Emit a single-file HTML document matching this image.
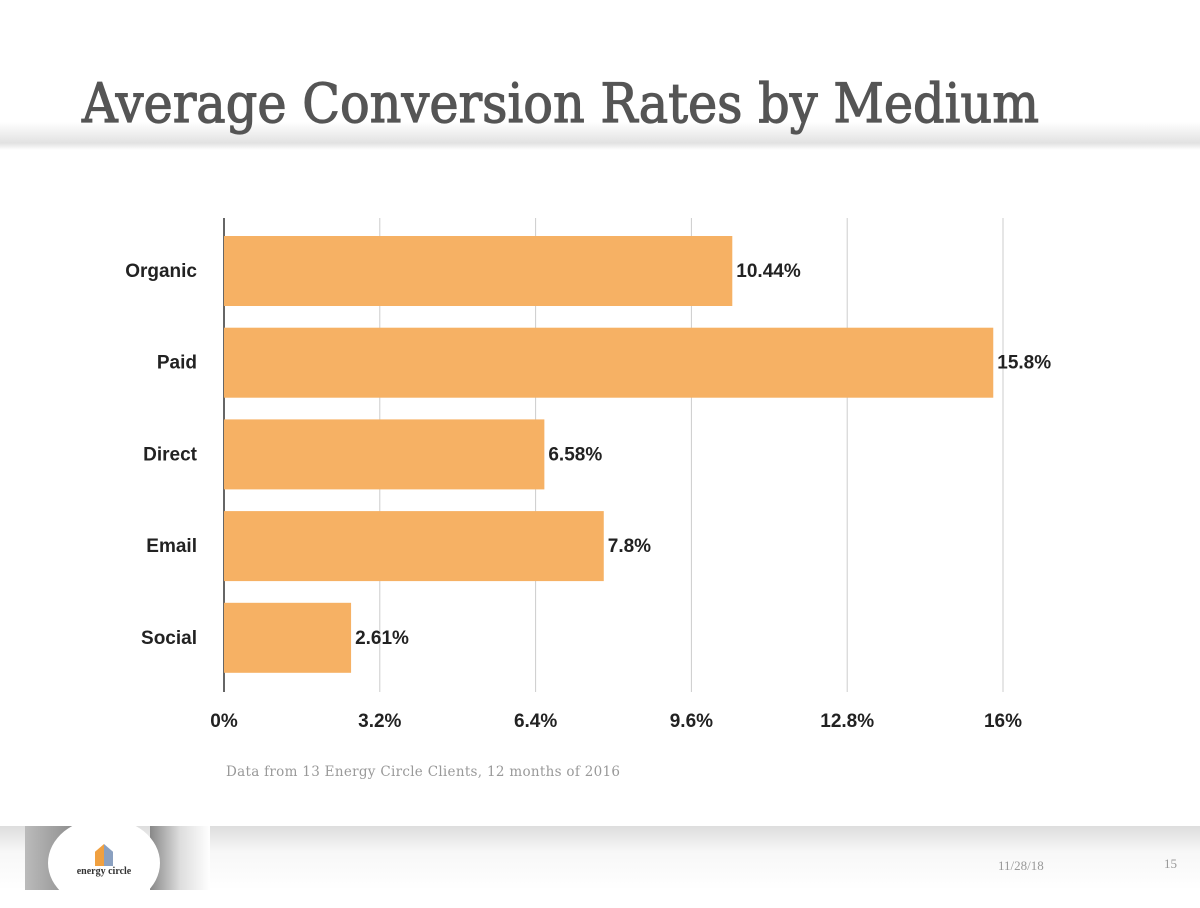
<!DOCTYPE html>
<html><head><meta charset="utf-8"><style>
body{margin:0;width:1200px;height:890px;background:#fff;position:relative;overflow:hidden;font-family:"Liberation Sans",sans-serif}
.band{position:absolute;left:0;width:1200px}
</style></head><body>
<div class="band" style="top:122px;height:28px;background:linear-gradient(#fff,#e2e2e2 75%,#fff)"></div>
<svg width="1200" height="140" style="position:absolute;left:0;top:0">
<text x="82" y="122" font-family="DejaVu Serif, serif" font-size="54" fill="#555" stroke="#555" stroke-width="1.2" textLength="957" lengthAdjust="spacingAndGlyphs">Average Conversion Rates by Medium</text></svg>
<svg id="chart" width="1200" height="780" style="position:absolute;left:0;top:0"></svg>
<div style="position:absolute;left:226px;top:764px;font-family:'DejaVu Serif',serif;font-size:13.5px;color:#999;letter-spacing:0.3px">Data from 13 Energy Circle Clients, 12 months of 2016</div>
<div class="band" style="top:826px;height:64px;background:linear-gradient(#ddd,#f7f7f7 40%,#fff)"></div>
<div style="position:absolute;left:25px;top:826px;width:55px;height:64px;background:linear-gradient(90deg,#bbb,#888)"></div>
<div style="position:absolute;left:150px;top:826px;width:60px;height:64px;background:linear-gradient(90deg,#888,#ddd,#fff)"></div>
<div style="position:absolute;left:48px;top:818px;width:112px;height:90px;border-radius:50%;background:#fff;text-align:center">
<div style="margin:26px auto 0;width:18px;height:22px;background:linear-gradient(90deg,#f0a040 50%,#8aa0c0 50%);clip-path:polygon(50% 0,100% 35%,100% 100%,0 100%,0 35%)"></div>
<div style="font-family:'Liberation Serif',serif;font-size:10px;font-weight:bold;color:#333">energy circle</div></div>
<div style="position:absolute;left:998px;top:858px;font-family:'Liberation Serif',serif;font-size:13px;color:#999">11/28/18</div>
<div style="position:absolute;left:1164px;top:856px;font-family:'Liberation Serif',serif;font-size:13px;color:#999">15</div>
<script>
const categories=["Organic","Paid","Direct","Email","Social"];
const values=[10.44,15.8,6.58,7.8,2.61];
const valueLabels=["10.44%","15.8%","6.58%","7.8%","2.61%"];
const ticks=[0,3.2,6.4,9.6,12.8,16];
const tickLabels=["0%","3.2%","6.4%","9.6%","12.8%","16%"];
const NS="http://www.w3.org/2000/svg",svg=document.getElementById('chart');
const x=v=>224+v*(1003-224)/16;
const bandTop=226,band=91.7,barH=70,barOff=10;
const y=i=>bandTop+i*band;
function el(t,a,txt){const e=document.createElementNS(NS,t);for(const k in a)e.setAttribute(k,a[k]);if(txt!=null)e.textContent=txt;svg.appendChild(e);return e;}
ticks.forEach((t,i)=>{
 const g=el('line',{x1:x(t),x2:x(t),y1:218,y2:692,stroke:i==0?'#333':'#ccc','stroke-width':i==0?1.5:1});
 
 
 const l=el('text',{x:x(t),y:727,'text-anchor':'middle','font-size':19,'font-weight':'bold',fill:'#222'},tickLabels[i]);
 
 
});
categories.forEach((c,i)=>{
 const r=el('rect',{x:x(0),y:y(i)+barOff,width:x(values[i])-x(0),height:barH,fill:'#f6b164'});
 
 
 const cl=el('text',{x:197,y:y(i)+barOff+barH/2+6,'text-anchor':'end','font-size':19,'font-weight':'bold',fill:'#222'},c);
 
 
 const vl=el('text',{x:x(values[i])+4,y:y(i)+barOff+barH/2+6,'font-size':19,'font-weight':'bold',fill:'#222'},valueLabels[i]);
 
 
});
</script>
</body></html>
